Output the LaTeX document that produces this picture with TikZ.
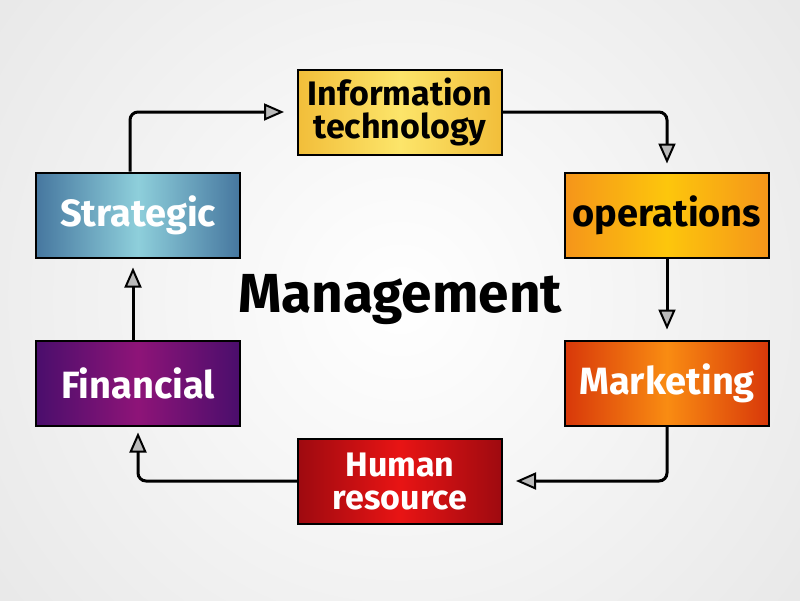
\documentclass[tikz,border=0pt]{standalone}
\usepackage{fontspec}
\setmainfont{Fira Sans}
\usetikzlibrary{positioning, arrows.meta}

\definecolor{itedge}{HTML}{F2BE3A}
\definecolor{itmid}{HTML}{FCE56A}
\definecolor{opedge}{HTML}{F5951A}
\definecolor{opmid}{HTML}{FDC60C}
\definecolor{mkedge}{HTML}{D8380A}
\definecolor{mkmid}{HTML}{F98C12}
\definecolor{hredge}{HTML}{9E0A10}
\definecolor{hrmid}{HTML}{E81414}
\definecolor{fnedge}{HTML}{4A0E6C}
\definecolor{fnmid}{HTML}{8E1478}
\definecolor{stedge}{HTML}{46779F}
\definecolor{stmid}{HTML}{8ECFDB}

\tikzset{
  box/.style={draw=black, line width=2pt, minimum width=204pt, minimum height=85pt,
    inner sep=0pt, align=center, font=\bfseries\fontsize{38}{38}\selectfont},
  twoline/.style={font=\bfseries\fontsize{34}{33}\selectfont},
  arr/.style={-{Triangle[length=20pt, width=17pt, fill=gray!55, line width=2pt]},
    line width=3pt, rounded corners=8pt},
}

\begin{document}
\begin{tikzpicture}[x=1pt, y=-1pt]
    \useasboundingbox (0,0) rectangle (800,600);
    \begin{scope}
        \clip (0,0) rectangle (800,600);
        \shade[inner color=white, outer color=gray!35] (400,300) circle (1000pt);
    \end{scope}

    \node[font=\bfseries\fontsize{55}{55}\selectfont] (M) at (400,300) {Management};

    \node[box, twoline, left color=itedge, right color=itedge, middle color=itmid] (IT) at (400,112) {Information\\technology};
    \node[box, left color=opedge, right color=opedge, middle color=opmid] (O) at (667,215) {operations};
    \node[box, text=white, left color=mkedge, right color=mkedge, middle color=mkmid] (Mk) at (667,383) {Marketing};
    \node[box, twoline, text=white, left color=hredge, right color=hredge, middle color=hrmid] (HR) at (400,481) {Human\\resource};
    \node[box, text=white, left color=fnedge, right color=fnedge, middle color=fnmid] (F) at (138,383) {Financial};
    \node[box, text=white, left color=stedge, right color=stedge, middle color=stmid] (S) at (138,215) {Strategic};

    \draw[arr, shorten >=13pt] ([xshift=-8pt]S.north) |- (IT.west);
    \draw[arr, shorten >=8pt] (IT.east) -| (O.north);
    \draw[arr, shorten >=10pt] (O.south) -- (Mk.north);
    \draw[arr, shorten >=13pt] (Mk.south) |- (HR.east);
    \draw[arr, shorten >=6pt] (HR.west) -| (F.south);
    \draw[arr, shorten >=9pt] ([xshift=-5pt]F.north) -- ([xshift=-5pt]S.south);
\end{tikzpicture}
\end{document}
